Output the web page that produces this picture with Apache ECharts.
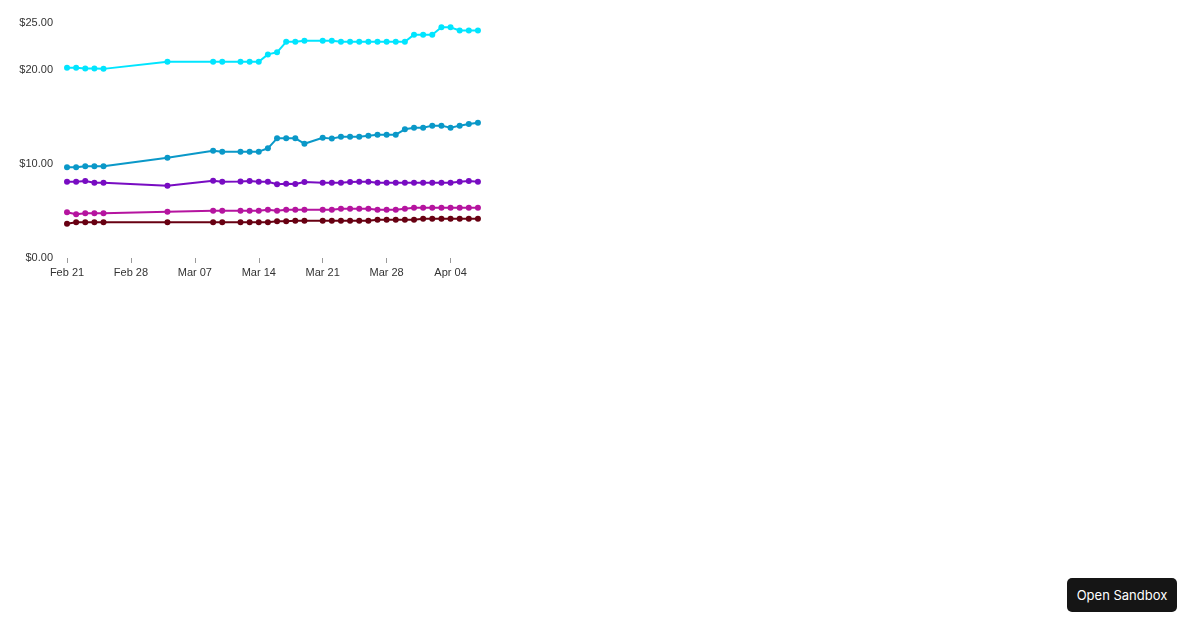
<!DOCTYPE html>
<html>
<head>
<meta charset="utf-8">
<script src="https://cdn.jsdelivr.net/npm/echarts@6/dist/echarts.min.js"></script>
<style>
  html, body { margin: 0; padding: 0; background: #fff; }
  #chart { width: 1200px; height: 630px; }
  #sandbox {
    position: absolute; left: 1067px; top: 578px; width: 110px; height: 34px;
    background: #151515; color: #fff; border-radius: 5px;
    font: 13px "Inter", "Liberation Sans", sans-serif;
    display: flex; align-items: center; justify-content: center;
  }
</style>
</head>
<body>
<div id="chart"></div>
<div id="sandbox">Open Sandbox</div>
<script>
// dates of the observations
var dates = ["2021-02-21","2021-02-22","2021-02-23","2021-02-24","2021-02-25",
  "2021-03-04","2021-03-09","2021-03-10","2021-03-12","2021-03-13","2021-03-14",
  "2021-03-15","2021-03-16","2021-03-17","2021-03-18","2021-03-19","2021-03-21",
  "2021-03-22","2021-03-23","2021-03-24","2021-03-25","2021-03-26","2021-03-27",
  "2021-03-28","2021-03-29","2021-03-30","2021-03-31","2021-04-01","2021-04-02",
  "2021-04-03","2021-04-04","2021-04-05","2021-04-06","2021-04-07"];
var cyanVals = [20.24,20.24,20.15,20.15,20.12,20.88,20.88,20.88,20.88,20.88,20.88,
  21.66,21.88,23.0,23.0,23.12,23.12,23.12,23.0,23.0,23.0,23.0,23.0,23.0,23.0,23.0,
  23.76,23.76,23.76,24.54,24.54,24.2,24.2,24.2];
var blueVals = [9.65,9.65,9.75,9.75,9.75,10.67,11.42,11.31,11.31,11.31,11.31,
  11.67,12.73,12.73,12.73,12.16,12.8,12.7,12.9,12.9,12.9,13.0,13.12,13.12,13.12,13.69,
  13.86,13.86,14.08,14.08,13.86,14.08,14.26,14.4];
var purpleVals = [8.12,8.12,8.19,8.01,8.01,7.69,8.22,8.12,8.15,8.19,8.12,
  8.12,7.84,7.9,7.87,8.08,8.01,8.01,8.01,8.08,8.12,8.12,8.01,8.01,8.01,8.01,
  8.01,8.01,8.01,8.01,8.01,8.12,8.19,8.12];
var magentaVals = [4.86,4.65,4.75,4.75,4.75,4.93,5.03,5.03,5.03,5.03,5.03,
  5.14,5.03,5.14,5.14,5.14,5.14,5.14,5.24,5.24,5.24,5.24,5.14,5.14,5.14,5.24,
  5.35,5.35,5.35,5.35,5.35,5.35,5.35,5.35];
var darkVals = [3.65,3.8,3.8,3.8,3.8,3.8,3.8,3.8,3.8,3.8,3.8,
  3.8,3.9,3.9,3.97,3.97,3.97,3.97,3.97,3.97,3.97,3.97,4.08,4.08,4.08,4.08,
  4.08,4.18,4.18,4.18,4.18,4.18,4.18,4.18];
var tickLabels = ["Feb 21","Feb 28","Mar 07","Mar 14","Mar 21","Mar 28","Apr 04"];

var DAY = 86400000;
var start = Date.parse(dates[0]);
var dayNum = dates.map(function (d) { return Math.round((Date.parse(d) - start) / DAY); });

function pairs(vals) {
  return vals.map(function (v, i) { return [dayNum[i], v]; });
}
function line(name, vals, color) {
  return {
    name: name, type: "line", data: pairs(vals),
    symbol: "circle", symbolSize: 6, showSymbol: true,
    lineStyle: { width: 2, color: color }, itemStyle: { color: color }
  };
}

var chart = echarts.init(document.getElementById("chart"));
chart.setOption({
  animation: false,
  textStyle: { fontFamily: "Liberation Sans, Arial, sans-serif" },
  grid: { left: 67, top: 23, width: 415.5, bottom: 372, containLabel: false },
  xAxis: {
    type: "value", min: 0, max: 45.5, interval: 7,
    axisLine: { show: false },
    axisTick: { show: true, length: 5, lineStyle: { color: "#999" } },
    splitLine: { show: false },
    axisLabel: {
      color: "#333", fontSize: 11, margin: 9,
      showMaxLabel: false,
      formatter: function (v) { return tickLabels[Math.round(v / 7)] || ""; }
    }
  },
  yAxis: {
    type: "value", min: 0, max: 25, interval: 10,
    axisLine: { show: false }, axisTick: { show: false },
    splitLine: { show: false },
    axisLabel: {
      color: "#333", fontSize: 11, margin: 14,
      formatter: function (v) { return "$" + v.toFixed(2); }
    }
  },
  series: [
    line("cyan", cyanVals, "#00e5ff"),
    line("blue", blueVals, "#0a98c8"),
    line("purple", purpleVals, "#780cc2"),
    line("magenta", magentaVals, "#b5149f"),
    line("dark", darkVals, "#680012")
  ]
});
</script>
</body>
</html>
